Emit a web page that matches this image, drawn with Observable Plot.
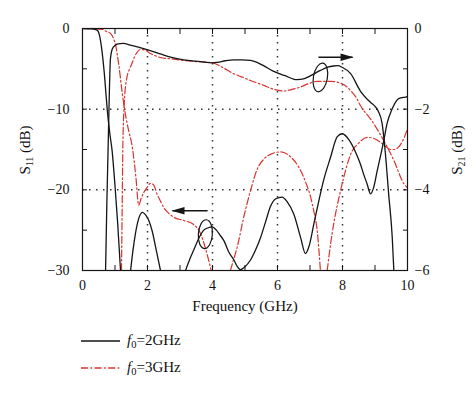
<!DOCTYPE html>
<html><head><meta charset="utf-8">
<script src="https://cdn.jsdelivr.net/npm/d3@7"></script>
<script src="https://cdn.jsdelivr.net/npm/@observablehq/plot@0.6"></script>
<style>
body{margin:0;background:#fff;width:474px;height:397px;position:relative;overflow:hidden;font-family:"Liberation Serif","Times New Roman",serif;}
#legend{position:absolute;left:81px;top:329px;}
.row{display:flex;align-items:center;height:24px;margin-bottom:3px;font-size:15px;color:#111;white-space:nowrap}
.row svg{margin-right:7px}
sub{font-size:0.7em;vertical-align:-0.25em;font-style:normal}
</style></head><body>
<div id="chart"></div>
<div id="legend"></div>
<script>
// ---- data (frequency GHz, value dB); null = curve leaves the chart ----
const s11_2GHz = [
[0,0],[0.3,-0.05],[0.45,-0.2],[0.52,-0.8],[0.6,-2.8],[0.67,-5.5],[0.72,-8],[0.76,-10],[0.84,-13],[0.91,-15.1],[1.0,-19.5],[1.08,-24],[1.17,-30],[1.3,null],
[1.48,-30],[1.55,-27.6],[1.63,-25.4],[1.72,-23.7],[1.84,-22.8],[1.94,-23.1],[2.04,-23.8],[2.15,-25.2],[2.25,-27.1],[2.4,-30],[2.8,null],
[3.17,-30],[3.3,-28.6],[3.42,-27.5],[3.58,-26],[3.73,-25],[3.87,-24.7],[3.99,-24.6],[4.12,-25],[4.23,-25.6],[4.35,-26.3],[4.5,-27.7],[4.66,-28.7],[4.76,-29.5],[4.86,-29.9],[4.98,-29.6],[5.17,-28.7],[5.32,-27.5],[5.48,-25.9],[5.63,-24],[5.78,-22.1],[5.95,-21.1],[6.14,-20.9],[6.3,-21.5],[6.5,-23],[6.71,-25.9],[6.86,-27.9],[6.97,-27],[7.12,-24.2],[7.27,-21.4],[7.42,-18.8],[7.63,-16],[7.84,-13.4],[7.99,-13.05],[8.2,-13.8],[8.4,-15.3],[8.55,-16.8],[8.67,-18.3],[8.76,-19.3],[8.86,-20.5],[8.96,-19.7],[9.07,-17.6],[9.17,-15.8],[9.27,-13.9],[9.37,-11.8],[9.53,-9.95],[9.73,-8.7],[9.94,-8.5],[10,-8.45]
];
const s21_2GHz = [
[0.71,-6],[0.75,-4.3],[0.79,-2.9],[0.82,-1.8],[0.86,-0.75],[0.92,-0.5],[1.0,-0.42],[1.1,-0.38],[1.25,-0.37],[1.5,-0.42],[1.8,-0.48],[2.09,-0.55],[2.4,-0.63],[2.71,-0.71],[3.11,-0.78],[3.63,-0.82],[3.99,-0.85],[4.14,-0.84],[4.4,-0.8],[4.65,-0.78],[4.9,-0.78],[5.17,-0.79],[5.4,-0.85],[5.57,-0.92],[5.85,-1.05],[6.23,-1.17],[6.6,-1.27],[6.8,-1.25],[7.02,-1.17],[7.32,-1.04],[7.55,-0.96],[7.72,-0.93],[7.85,-0.92],[7.99,-0.96],[8.25,-1.12],[8.55,-1.55],[8.86,-1.83],[9.0,-1.93],[9.1,-2.05],[9.22,-2.36],[9.32,-3.1],[9.42,-4.1],[9.53,-5.17],[9.58,-6]
];
const s11_3GHz = [
[0,0],[0.6,-0.1],[0.75,-0.4],[0.86,-0.6],[0.95,-1.2],[1.02,-2.1],[1.12,-4.6],[1.22,-7.9],[1.29,-9.9],[1.4,-12.3],[1.54,-14.9],[1.64,-18.3],[1.73,-21.9],[1.81,-21],[1.89,-20.3],[1.99,-19.7],[2.09,-19.2],[2.19,-19.4],[2.3,-20.6],[2.4,-21.4],[2.5,-22.2],[2.6,-22.7],[2.81,-23.4],[3.12,-23.8],[3.42,-24.3],[3.63,-25.4],[3.78,-27.2],[3.9,-29],[3.96,-30],[4.2,null],
[4.55,-30],[4.66,-28.5],[4.76,-27.1],[4.96,-23.4],[5.17,-20.1],[5.38,-17.4],[5.58,-16.2],[5.78,-15.6],[6.09,-15.3],[6.4,-15.9],[6.71,-17.6],[6.88,-19.2],[7.02,-20.9],[7.12,-22.7],[7.22,-25],[7.32,-30],[7.42,null],
[7.53,-30],[7.63,-26.8],[7.73,-24.2],[7.94,-20.1],[8.1,-17.5],[8.25,-15.6],[8.5,-14.2],[8.76,-13.5],[8.95,-13.6],[9.17,-14.1],[9.35,-14.7],[9.48,-15],[9.6,-15],[9.7,-14.8],[9.8,-14.3],[9.89,-13.6],[10,-12.4]
];
const s21_3GHz = [
[1.2,-6],[1.22,-4.5],[1.24,-3],[1.27,-2.1],[1.3,-1.65],[1.37,-1.2],[1.45,-1.0],[1.53,-0.85],[1.6,-0.7],[1.68,-0.59],[1.78,-0.52],[1.9,-0.53],[2.09,-0.62],[2.4,-0.72],[2.71,-0.75],[3.11,-0.79],[3.5,-0.82],[3.99,-0.85],[4.3,-0.96],[4.65,-1.12],[4.9,-1.2],[5.17,-1.29],[5.58,-1.41],[5.78,-1.48],[6.0,-1.53],[6.2,-1.55],[6.4,-1.52],[6.71,-1.45],[6.95,-1.37],[7.22,-1.31],[7.63,-1.31],[7.99,-1.37],[8.25,-1.54],[8.45,-1.75],[8.55,-1.91],[8.86,-2.24],[9.07,-2.5],[9.27,-2.78],[9.58,-3.27],[9.89,-3.85],[10,-3.95]
];

// ---- ticks ----
const xTicks = [0,1,2,3,4,5,6,7,8,9,10];
const xTickLabels = ["0","","2","","4","","6","","8","","10"];
const s11Ticks = [0,-5,-10,-15,-20,-25,-30];
const s11TickLabels = ["0","","\u221210","","\u221220","","\u221230"];
const s21TickLabels = ["0","","\u22122","","\u22124","","\u22126"];
const gridFreq = [2,4,6,8];
const gridS11 = [-10,-20];
const s21ToS11 = 5; // right axis −6…0 spans same height as left −30…0

// ---- annotations ----
const ellipseF = [7.32, 3.78];
const ellipseDb = [-6.07, -25.5];
const ellipseTilt = [10, 4];
const arrowFrom = [7.26, 3.85];
const arrowTo = [8.31, 2.77];
const arrowDb = [-3.56, -22.6];

// ---- legend ----
const seriesNames = ["2GHz","3GHz"];
const black = "#151515", red = "#d8332f";
const redDash = "7,2.5,1.6,2.5";

const toRows = (pairs, k) => pairs.map(([f, v]) => ({f, v: v == null ? NaN : v * k}));
const ellipses = ellipseF.map((f, i) => ({f, v: ellipseDb[i], rot: ellipseTilt[i]}));
const arrows = arrowFrom.map((f, i) => ({x1: f, x2: arrowTo[i], v: arrowDb[i], rot: arrowTo[i] > f ? 0 : 180}));

const ellipseSymbol = {draw(ctx) {
  const rx = 7, ry = 14.5, k = 0.5523;
  ctx.moveTo(rx, 0);
  ctx.bezierCurveTo(rx, k*ry, k*rx, ry, 0, ry);
  ctx.bezierCurveTo(-k*rx, ry, -rx, k*ry, -rx, 0);
  ctx.bezierCurveTo(-rx, -k*ry, -k*rx, -ry, 0, -ry);
  ctx.bezierCurveTo(k*rx, -ry, rx, -k*ry, rx, 0);
  ctx.closePath();
}};
const headSymbol = {draw(ctx) {
  ctx.moveTo(1, 0); ctx.lineTo(-12, -3.8); ctx.lineTo(-12, 3.8); ctx.closePath();
}};

const gridStyle = {stroke: "#333", strokeOpacity: 1, strokeWidth: 1.5, strokeDasharray: "1.5,5.5"};

const plot = Plot.plot({
  width: 474, height: 318,
  marginLeft: 82, marginRight: 67, marginTop: 28, marginBottom: 48,
  x: {domain: [0, 10]},
  y: {domain: [-30, 0]},
  style: {fontFamily: "'Liberation Serif','Times New Roman',serif", fontSize: "14px", color: "#111", background: "#fff"},
  marks: [
    Plot.gridX(gridFreq, gridStyle),
    Plot.gridY(gridS11, gridStyle),
    Plot.line(toRows(s21_3GHz, s21ToS11), {x: "f", y: "v", stroke: red, strokeWidth: 1.2, strokeDasharray: redDash, curve: "monotone-x", clip: true}),
    Plot.line(toRows(s11_3GHz, 1), {x: "f", y: "v", stroke: red, strokeWidth: 1.2, strokeDasharray: redDash, curve: "monotone-x", clip: true}),
    Plot.line(toRows(s21_2GHz, s21ToS11), {x: "f", y: "v", stroke: black, strokeWidth: 1.3, curve: "monotone-x", clip: true}),
    Plot.line(toRows(s11_2GHz, 1), {x: "f", y: "v", stroke: black, strokeWidth: 1.3, curve: "monotone-x", clip: true}),
    Plot.dot(ellipses, {x: "f", y: "v", symbol: ellipseSymbol, r: 3, fill: "none", stroke: black, strokeWidth: 1.2, rotate: "rot"}),
    Plot.link(arrows, {x1: "x1", x2: "x2", y1: "v", y2: "v", stroke: black, strokeWidth: 1.4}),
    Plot.dot(arrows, {x: "x2", y: "v", symbol: headSymbol, r: 3, fill: black, stroke: "none", rotate: "rot"}),
    Plot.frame({stroke: black, strokeWidth: 1.2}),
    Plot.axisX(xTicks, {anchor: "bottom", tickSize: -5, tickPadding: 15, tickFormat: d => xTickLabels[xTicks.indexOf(d)], label: null, stroke: black}),
    Plot.axisX(xTicks, {anchor: "top", tickSize: -5, tickFormat: () => "", label: null, stroke: black}),
    Plot.axisY(s11Ticks, {anchor: "left", tickSize: -5, tickPadding: 18, tickFormat: d => s11TickLabels[s11Ticks.indexOf(d)], label: null, stroke: black}),
    Plot.axisY(s11Ticks, {anchor: "right", tickSize: -5, tickPadding: 12, tickFormat: d => s21TickLabels[s11Ticks.indexOf(d)], label: null, stroke: black}),
    Plot.text(["Frequency (GHz)"], {frameAnchor: "bottom", dy: 40, fontSize: 15, fill: "#111"})
  ]
});
document.getElementById("chart").appendChild(plot);

// axis titles with subscripts
const svg = d3.select(plot);
function yTitle(x, sub) {
  const t = svg.append("text")
    .attr("transform", `translate(${x},150) rotate(-90)`)
    .attr("text-anchor", "middle")
    .attr("font-size", 15).attr("fill", "#111");
  t.append("tspan").text("S");
  t.append("tspan").attr("font-size", 10).attr("dy", 3).text(sub);
  t.append("tspan").attr("dy", -3).text(" (dB)");
}
yTitle(30, "11");
yTitle(462, "21");

// legend
const lg = d3.select("#legend");
seriesNames.forEach((name, i) => {
  const row = lg.append("div").attr("class", "row");
  const sw = row.append("svg").attr("width", 39).attr("height", 6);
  sw.append("line").attr("x1", 0).attr("x2", 39).attr("y1", 3).attr("y2", 3)
    .attr("stroke", i ? red : black).attr("stroke-width", 1.3)
    .attr("stroke-dasharray", i ? redDash : null);
  const sp = row.append("span");
  sp.append("i").text("f");
  sp.append("sub").text("0");
  sp.append("span").text("=" + name);
});
</script></body></html>
